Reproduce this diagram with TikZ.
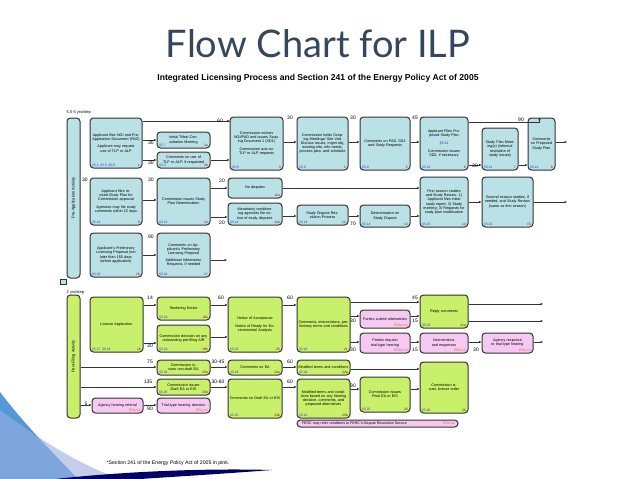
\documentclass[tikz,border=0pt]{standalone}
\usepackage{fontspec}
\setmainfont{Liberation Sans}
\newfontfamily\titlefont{Lato}
\usetikzlibrary{arrows.meta}
\definecolor{cy}{HTML}{B9E1E6}
\definecolor{gr}{HTML}{C8F06A}
\definecolor{pk}{HTML}{F6C9F2}
\definecolor{bd}{HTML}{333333}
\definecolor{ttl}{HTML}{34475C}
\definecolor{refc}{HTML}{2233CC}
\definecolor{epc}{HTML}{E8602C}
\tikzset{
 bxs/.style={draw=bd,line width=1pt,rounded corners=3.5pt,align=center,font=\fontsize{3.7}{4.2}\selectfont,inner sep=1pt},
 cyb/.style={bxs,fill=cy},
 grb/.style={bxs,fill=gr},
 pkb/.style={bxs,fill=pk},
 reft/.style={font=\fontsize{3.3}{3.3}\selectfont,text=refc,inner sep=0.5pt},
 numt/.style={font=\fontsize{3.3}{3.3}\selectfont,text=purple!70!black,inner sep=0.5pt},
 ept/.style={font=\fontsize{3.3}{3.3}\selectfont,text=epc,inner sep=0.5pt},
 lab/.style={font=\fontsize{5}{5.5}\selectfont,inner sep=0.5pt},
 arr/.style={draw=bd,line width=0.8pt,-{Latex[length=2.5pt,width=2.5pt]}},
 ln/.style={draw=bd,line width=0.8pt},
}
\newcommand\mybox[7]{%
 \pgfmathsetmacro\tw{#5-#3-2.5}%
 \node[#1,minimum width={(#5)-(#3)},minimum height={(#6)-(#4)},text width=\tw pt,anchor=center] (#2) at ({(#3+#5)/2},{(#4+#6)/2}) {#7};}
\newcommand\tags[3]{%
 \node[reft,anchor=south west] at ([xshift=2pt,yshift=1pt]#1.south west) {#2};
 \node[numt,anchor=south east] at ([xshift=-2pt,yshift=1pt]#1.south east) {#3};}
\newcommand\eptag[2]{\node[ept,anchor=south east] at ([xshift=-2pt,yshift=1pt]#1.south east) {#2};}
\begin{document}
\begin{tikzpicture}[x=1pt,y=-1pt]
\useasboundingbox (0,0) rectangle (638,479);
\fill[white] (0,0) rectangle (638,479);
% swoosh
\fill[cyan!60!blue!70] (0,392) .. controls (25,425) and (55,455) .. (78,479) -- (0,479) -- cycle;
\fill[cyan!40!blue!40,opacity=0.6] (0,410) .. controls (40,440) and (80,465) .. (120,479) -- (0,479) -- cycle;
\fill[blue!40!black] (55,479) .. controls (120,472) and (200,468) .. (272,470) .. controls (220,474) and (170,477) .. (140,479) -- cycle;
% titles
\node[font=\titlefont\fontsize{38}{40}\selectfont,text=ttl] (title) at (318,44) {Flow Chart for ILP};
\node[font=\bfseries\fontsize{8.6}{9}\selectfont] (sub) at (318,78) {Integrated Licensing Process and Section 241 of the Energy Policy Act of 2005};
% pre-application
\node[lab,anchor=west,font=\fontsize{4}{4.5}\selectfont] (yr1) at (66,112) {5.5-5 yrs/step};
\mybox{cyb}{bar1}{67}{118}{80}{278}{}
\node[rotate=90,font=\fontsize{4}{4.5}\selectfont] (bar1t) at (bar1) {Pre-Application Activity};
\mybox{cyb}{b1}{90}{118}{142}{168}{Applicant files NOI and Pre-Application Document (PAD)\\[3pt]Applicant may request use of TLP or ALP\\[6pt]}
\tags{b1}{§5.1, §5.5, §5.6}{1}
\mybox{cyb}{b2a}{157}{132}{210}{148}{Initial Tribal Consultation Meeting\\[2pt]}
\tags{b2a}{§5.7}{2a}
\mybox{cyb}{b2b}{157}{152}{210}{168}{Comments on use of TLP or ALP, if requested\\[2pt]}
\tags{b2b}{§5.3}{2b}
\mybox{cyb}{b3}{230}{117}{283}{170}{Commission notices NOI/PAD and issues Scoping Document 1 (SD1)\\[4pt]Commission acts on TLP or ALP requests\\[6pt]}
\tags{b3}{§5.8}{3}
\mybox{cyb}{b4}{297}{117}{348}{170}{Commission holds Scoping Meetings/ Site Visit\\Discuss issues, mgmt obj, existing info, info needs, process plan, and schedule\\[6pt]}
\tags{b4}{§5.8}{4}
\mybox{cyb}{b5}{360}{117}{410}{170}{Comments on PAD, SD1 and Study Requests\\[24pt]}
\tags{b5}{§5.9}{5}
\mybox{cyb}{b6}{420}{117}{468}{170}{Applicant Files Proposed Study Plan\\[4pt]{\color{refc}§5.11}\\[3pt]Commission issues SD2, if necessary\\[8pt]}
\tags{b6}{§5.10}{6}
\mybox{cyb}{b7}{482}{128}{518}{170}{Study Plan Meeting(s) (informal resolution of study issues)\\[4pt]}
\tags{b7}{§5.11}{7}
\mybox{cyb}{b8}{528}{118}{555}{170}{Comments on Proposed Study Plan\\[14pt]}
\tags{b8}{§5.12}{8}
\coordinate (o1) at (567,142);
\draw[ln] (b1.east |- 0,121) -- (b3.west |- 0,121);
\draw[arr] ([xshift=-4pt]b3.west |- 0,121) -- (b3.west |- 0,121);
\draw[arr] (b1.east |- b2a) -- (b2a);
\draw[arr] (b1.east |- b2b) -- (b2b);
\draw[arr] (b2b) -- (b3.west |- b2b);
\draw[arr] (b3.east |- 0,142) -- (b4.west |- 0,142);
\draw[arr] (b4.east |- 0,142) -- (b5.west |- 0,142);
\draw[arr] (b5.east |- 0,142) -- (b6.west |- 0,142);
\draw[arr] (b6.east |- 0,165) -- (b7.west |- 0,165);
\draw[arr] (b7.east |- 0,165) -- (b8.west |- 0,165);
\draw[arr] (b6.north east |- 0,122) -| ([xshift=-2pt]b8.north);
\draw[arr] (b8.east |- o1) -- (o1);
\node[lab] (l60a) at (220,121) {60};
\node[lab] (l30a) at (290,118) {30};
\node[lab] (l30b) at (151,143) {30};
\node[lab] (l30c) at (151,163) {30};
\node[lab] (l30d) at (353,118) {30};
\node[lab] (l45a) at (415,118) {45};
\node[lab] (l90a) at (521,120) {90};
\node[lab] (l30e) at (475,166) {30};
% row 2
\mybox{cyb}{b9}{90}{178}{142}{225}{Applicant files revised Study Plan for Commission approval\\[4pt]Agencies may file study comments within 15 days\\[7pt]}
\tags{b9}{§5.13}{9}
\mybox{cyb}{b10}{157}{178}{210}{225}{Commission issues Study Plan Determination\\[22pt]}
\tags{b10}{§5.13}{10}
\mybox{cyb}{b11a}{228}{178}{282}{198}{No disputes\\[9pt]}
\tags{b11a}{}{11a}
\mybox{cyb}{b11b}{228}{203}{282}{225}{Mandatory conditioning agencies file notice of study disputes\\[1pt]}
\tags{b11b}{§5.14}{11b}
\mybox{cyb}{b12}{297}{205}{348}{225}{Study Dispute Resolution Process\\[4pt]}
\tags{b12}{§5.14}{12}
\mybox{cyb}{b13}{360}{205}{410}{227}{Determination on Study Dispute\\[5pt]}
\tags{b13}{§5.14}{13}
\mybox{cyb}{b14}{420}{177}{468}{227}{First season studies and Study Review: 1) Applicant files initial study report; 2) Study meeting; 3) Requests for study plan modification\\[3pt]}
\tags{b14}{§5.15}{14}
\mybox{cyb}{b15}{482}{177}{533}{227}{Second season studies, if needed, and Study Review (same as first season)\\[18pt]}
\tags{b15}{§5.15}{15}
\coordinate (o2) at (567,202);
\draw[arr] (b9.east |- 0,200) -- (b10.west |- 0,200);
\draw[arr] (b10.east |- 0,188) -- (b11a.west |- 0,188);
\draw[arr] (b10.east |- 0,217) -- (b11b.west |- 0,217);
\draw[arr] (b11a.east |- 0,188) -- (b14.west |- 0,188);
\draw[arr] (b11b.east |- 0,216) -- (b12.west |- 0,216);
\draw[arr] (b12.east |- 0,216) -- (b13.west |- 0,216);
\draw[arr] (b13.east |- 0,216) -- (b14.west |- 0,216);
\draw[arr] (b14.east |- 0,202) -- (b15.west |- 0,202);
\draw[arr] (b15.east |- o2) -- (o2);
\node[lab] (l30f) at (85,180) {30};
\node[lab] (l30g) at (151,180) {30};
\node[lab] (l20a) at (222,181) {20};
\node[lab] (l20b) at (222,223) {20};
\node[lab] (l70) at (353,224) {70};
% row 3
\mybox{cyb}{b16}{90}{233}{142}{277}{Applicant's Preliminary Licensing Proposal (not later than 150 days before application)\\[7pt]}
\tags{b16}{§5.16}{16}
\mybox{cyb}{b17}{157}{233}{210}{277}{Comments on Applicant's Preliminary Licensing Proposal\\[3pt]Additional Information Requests, if needed\\[4pt]}
\tags{b17}{§5.16}{17}
\coordinate (o3) at (227,260);
\draw[arr] (b16.east |- 0,255) -- (b17.west |- 0,255);
\draw[arr] (b17.east |- o3) -- (o3);
\node[lab] (l90b) at (151,237) {90};
% post filing
\node[draw=bd,fill=cy,minimum width=6pt,minimum height=5pt,inner sep=0pt] (leg) at (63,282) {};
\node[lab,anchor=west,font=\fontsize{4}{4.5}\selectfont] (yr2) at (66,292) {2 yrs/step};
\mybox{grb}{bar2}{67}{295}{80}{418}{}
\node[rotate=90,font=\fontsize{4}{4.5}\selectfont] (bar2t) at (bar2) {Post-Filing Activity};
\mybox{grb}{b18}{90}{297}{143}{352}{License Application\\[34pt]}
\tags{b18}{§5.17, §5.18}{18}
\mybox{grb}{b19a}{157}{297}{210}{320}{Tendering Notice\\[7pt]}
\tags{b19a}{§5.19}{19a}
\mybox{grb}{b19b}{157}{325}{210}{352}{Commission decision on any outstanding pre-filing AIR\\[3pt]}
\tags{b19b}{§5.19}{19b}
\mybox{grb}{b20}{228}{297}{282}{352}{Notice of Acceptance\\[4pt]Notice of Ready for Environmental Analysis\\[18pt]}
\tags{b20}{§5.22}{20}
\mybox{grb}{b21}{297}{297}{350}{352}{Comments, interventions, preliminary terms and conditions\\[18pt]}
\tags{b21}{§5.23}{21}
\mybox{pkb}{p1a}{360}{310}{410}{328}{Parties submit alternatives\\[3pt]}
\eptag{p1a}{EPAct-1a}
\mybox{pkb}{p1b}{360}{333}{410}{353}{Parties request trial-type hearing\\[3pt]}
\eptag{p1b}{EPAct-1b}
\mybox{grb}{b21a}{420}{295}{468}{328}{Reply comments\\[18pt]}
\tags{b21a}{§5.23}{21a}
\mybox{pkb}{p2}{420}{333}{468}{353}{Interventions and responses\\[3pt]}
\eptag{p2}{EPAct-2}
\mybox{pkb}{p3}{482}{333}{533}{353}{Agency response to trial-type hearing\\[3pt]}
\eptag{p3}{EPAct-3}
\coordinate (o4) at (543,304);
\coordinate (o5) at (543,321);
\coordinate (o6) at (543,342);
\draw[arr] (b18.east |- 0,305) -- (b19a.west |- 0,305);
\draw[arr] (b18.east |- 0,343) -- (b19b.west |- 0,343);
\draw[arr] (b19a.east |- 0,305) -- (b20.west |- 0,305);
\draw[arr] (b19b.east |- 0,337) -- (b20.west |- 0,337);
\draw[arr] (b20.east |- 0,305) -- (b21.west |- 0,305);
\draw[arr] (b21.east |- 0,302) -- (b21a.west |- 0,302);
\draw[arr] (b21.east |- 0,316) -- (p1a.west |- 0,316);
\draw[arr] (b21.east |- 0,342) -- (p1b.west |- 0,342);
\draw[arr] (p1a.east |- 0,316) -- (b21a.west |- 0,316);
\draw[arr] (p1b.east |- 0,342) -- (p2.west |- 0,342);
\draw[arr] (p2.east |- 0,342) -- (p3.west |- 0,342);
\draw[arr] (b21a.east |- o4) -- (o4);
\draw[arr] (b21a.east |- o5) -- (o5);
\draw[arr] (p3.east |- o6) -- (o6);
\node[lab] (l14) at (150,298) {14};
\node[lab] (l30h) at (150,346) {30};
\node[lab] (l60b) at (221,298) {60};
\node[lab] (l60c) at (290,298) {60};
\node[lab] (l45b) at (415,298) {45};
\node[lab] (l15a) at (415,321) {15};
\node[lab] (l30i) at (353,321) {30};
\node[lab] (l30j) at (353,350) {30};
\node[lab] (l15b) at (415,350) {15};
\node[lab] (l30k) at (476,350) {30};
% EA rows
\mybox{grb}{b23a}{157}{360}{210}{375}{Commission issues non-draft EA\\[1pt]}
\tags{b23a}{§5.24}{23a}
\mybox{grb}{b23b}{157}{379}{210}{395}{Commission issues Draft EA or EIS\\[1pt]}
\tags{b23b}{§5.25}{23b}
\mybox{grb}{b24a}{228}{360}{282}{375}{Comments on EA\\[6pt]}
\tags{b24a}{§5.24}{24a}
\mybox{grb}{b24b}{228}{379}{282}{418}{Comments on Draft EA or EIS\\[24pt]}
\tags{b24b}{§5.25}{24b}
\mybox{grb}{b25a}{297}{360}{350}{375}{Modified terms and conditions\\[1pt]}
\tags{b25a}{§5.24}{24a}
\mybox{grb}{b25b}{297}{379}{350}{418}{Modified terms and conditions based on any hearing decision, comments, and proposed alternatives\\[5pt]}
\tags{b25b}{§5.25}{25b}
\mybox{grb}{b26}{360}{377}{410}{412}{Commission issues Final EA or EIS\\[14pt]}
\tags{b26}{§5.25}{26}
\mybox{grb}{b27}{420}{362}{468}{413}{Commission issues license order\\[32pt]}
\tags{b27}{§5.26}{26}
\mybox{pkb}{p4}{92}{398}{143}{413}{Agency hearing referral\\[2pt]}
\eptag{p4}{EPAct-4}
\mybox{pkb}{p5}{157}{398}{210}{413}{Trial-type hearing decision\\[2pt]}
\eptag{p5}{EPAct-4}
\mybox{pkb}{p6}{297}{420}{458}{427}{}
\node[font=\fontsize{3.6}{3.8}\selectfont,anchor=west] (p6t) at ([xshift=2pt]p6.west) {FERC may refer conditions to FERC's Dispute Resolution Service};
\node[ept,anchor=east] (p6e) at ([xshift=-3pt]p6.east) {EPAct-6};
\draw[arr] (bar2.east |- 0,367) -- (b23a.west |- 0,367);
\draw[arr] (bar2.east |- 0,387) -- (b23b.west |- 0,387);
\draw[arr] (bar2.east |- 0,405) -- (p4.west |- 0,405);
\draw[arr] (p4.east |- 0,405) -- (p5.west |- 0,405);
\draw[arr] (b23a.east |- 0,367) -- (b24a.west |- 0,367);
\draw[arr] (b23b.east |- 0,387) -- (b24b.west |- 0,387);
\draw[arr] (b24a.east |- 0,367) -- (b25a.west |- 0,367);
\draw[arr] (b24b.east |- 0,387) -- (b25b.west |- 0,387);
\draw[arr] (b25a.east |- 0,369) -- (b27.west |- 0,369);
\draw[arr] (b25b.east |- 0,389) -- (b26.west |- 0,389);
\draw[arr] (b26.east |- 0,389) -- (b27.west |- 0,389);
\node[lab] (l75) at (150,362) {75};
\node[lab] (l135) at (148,382) {135};
\node[lab] (l3045) at (218,362) {30-45};
\node[lab] (l3060) at (218,382) {30-60};
\node[lab] (l60d) at (290,362) {60};
\node[lab] (l60e) at (290,382) {60};
\node[lab] (l5) at (86,404) {5};
\node[lab] (l90c) at (150,409) {90};
\node[lab] (l90d) at (353,386) {90};
\node[font=\fontsize{5.2}{5.5}\selectfont,anchor=west] (foot) at (103,463) {*Section 241 of the Energy Policy Act of 2005 in pink.};
\end{tikzpicture}
\end{document}
